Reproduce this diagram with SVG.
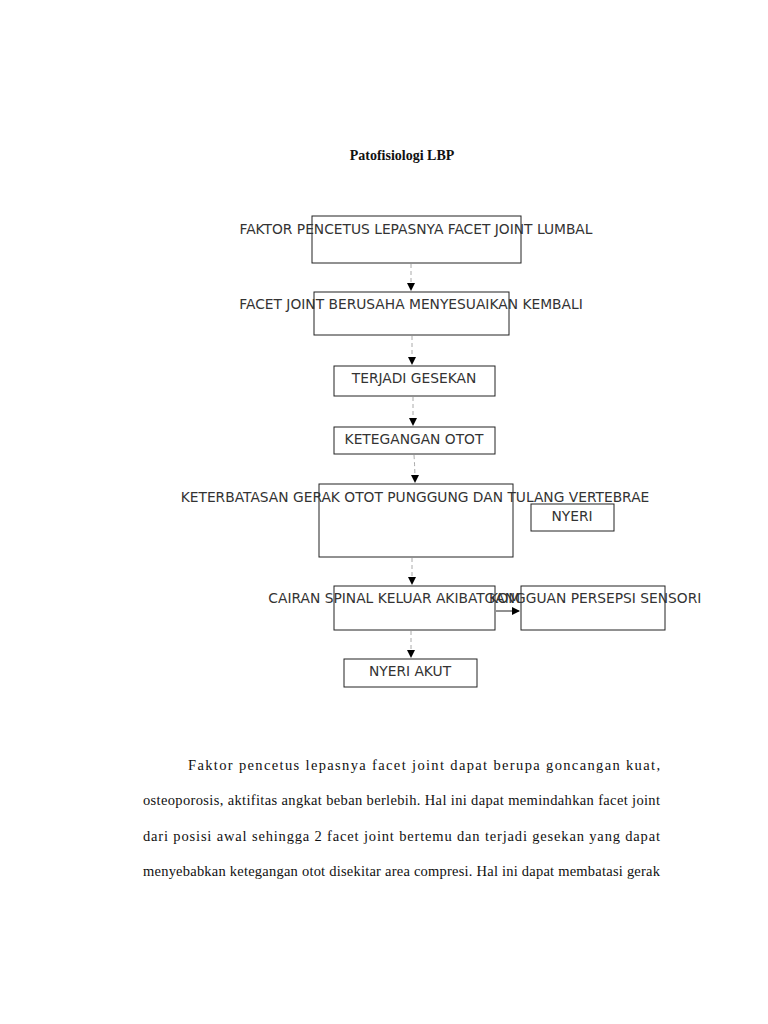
<svg xmlns="http://www.w3.org/2000/svg" width="768" height="1024" viewBox="0 0 768 1024">
<style>
.b{fill:#fff;stroke:#222;stroke-width:1}
.t{font-family:"DejaVu Sans",sans-serif;font-size:13.8px;fill:#333;text-anchor:middle}
.c{stroke:#aaa;stroke-width:1;stroke-dasharray:4,3;fill:none}
.p{font-family:"Liberation Serif",serif;font-size:14.5px;fill:#111}
</style>
<defs><marker id="a" markerWidth="8" markerHeight="8" refX="7" refY="4" orient="auto" markerUnits="userSpaceOnUse"><path d="M0,0 L8,4 L0,8 Z" fill="#000"/></marker></defs>
<rect width="768" height="1024" fill="#fff"/>
<text x="402" y="160" font-family="Liberation Serif,serif" font-size="14" font-weight="bold" text-anchor="middle" fill="#111">Patofisiologi LBP</text>
<g id="connectors">
<path class="c" d="M411,264 V290" marker-end="url(#a)"/>
<path class="c" d="M412,336 V364" marker-end="url(#a)"/>
<path class="c" d="M413,397 V425" marker-end="url(#a)"/>
<path class="c" d="M414,455 Q415,470 415,482" marker-end="url(#a)"/>
<path class="c" d="M412,558 V584" marker-end="url(#a)"/>
<path d="M496,611 H519" stroke="#222" fill="none" marker-end="url(#a)"/>
<path class="c" d="M411,631 V657" marker-end="url(#a)"/>
</g>
<g id="n1"><rect class="b" x="312" y="216" width="209" height="47"/><text class="t" x="416" y="234">FAKTOR PENCETUS LEPASNYA FACET JOINT LUMBAL</text></g>
<g id="n2"><rect class="b" x="314" y="292" width="195" height="43"/><text class="t" x="411" y="309">FACET JOINT BERUSAHA MENYESUAIKAN KEMBALI</text></g>
<g id="n3"><rect class="b" x="334" y="366" width="161" height="30"/><text class="t" x="414" y="383">TERJADI GESEKAN</text></g>
<g id="n4"><rect class="b" x="334" y="427" width="161" height="27"/><text class="t" x="414" y="444">KETEGANGAN OTOT</text></g>
<g id="n5"><rect class="b" x="319" y="484" width="194" height="73"/><text class="t" x="415" y="502">KETERBATASAN GERAK OTOT PUNGGUNG DAN TULANG VERTEBRAE</text></g>
<g id="n6"><rect class="b" x="531" y="504" width="83" height="27"/><text class="t" x="572" y="521">NYERI</text></g>
<g id="n7"><rect class="b" x="334" y="586" width="161" height="44"/><text class="t" x="414" y="603">CAIRAN SPINAL KELUAR AKIBAT KOMPRESI</text></g>
<g id="n8"><rect class="b" x="521" y="586" width="144" height="44"/><text class="t" x="593" y="603">GANGGUAN PERSEPSI SENSORI</text></g>
<g id="n9"><rect class="b" x="344" y="659" width="133" height="28"/><text class="t" x="410" y="676">NYERI AKUT</text></g>
<text class="p" x="188" y="770" textLength="472" lengthAdjust="spacing">Faktor pencetus lepasnya facet joint dapat berupa goncangan kuat,</text>
<text class="p" x="143" y="805" textLength="517" lengthAdjust="spacing">osteoporosis, aktifitas angkat beban berlebih. Hal ini dapat memindahkan facet joint</text>
<text class="p" x="143" y="841" textLength="517" lengthAdjust="spacing">dari posisi awal sehingga 2 facet joint bertemu dan terjadi gesekan yang dapat</text>
<text class="p" x="143" y="876" textLength="517" lengthAdjust="spacing">menyebabkan ketegangan otot disekitar area compresi. Hal ini dapat membatasi gerak</text>
</svg>
